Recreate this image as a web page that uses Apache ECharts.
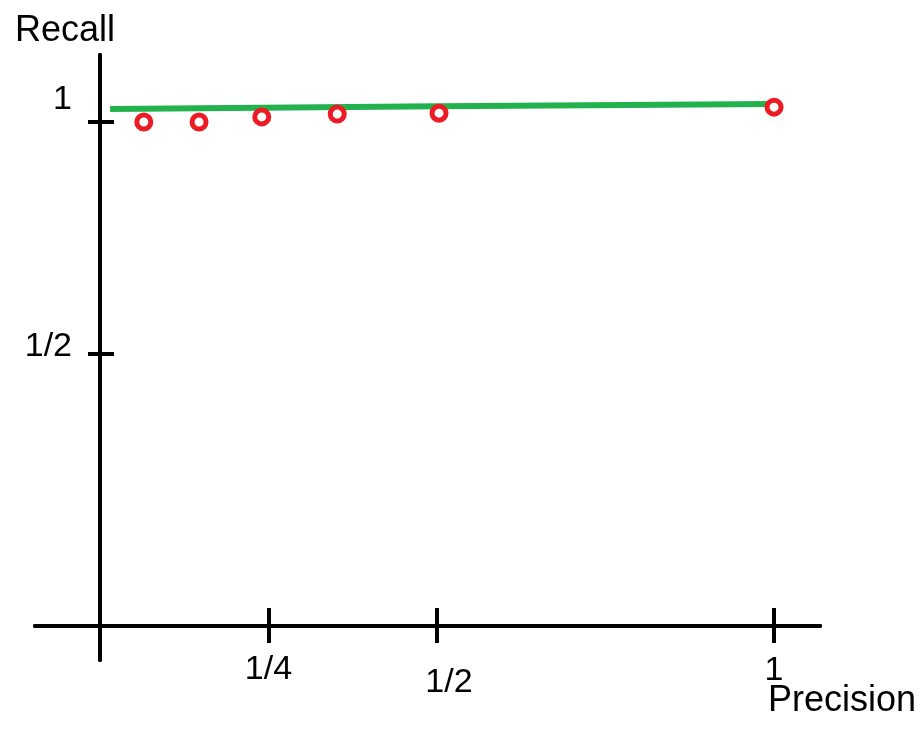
<!DOCTYPE html>
<html>
<head>
<meta charset="utf-8">
<script src="https://cdn.jsdelivr.net/npm/echarts@6/dist/echarts.min.js"></script>
<style>
html,body{margin:0;padding:0;background:#fff;}
#chart{width:924px;height:733px;}
</style>
</head>
<body>
<div id="chart"></div>
<script>
// Data
var precision = [0.065, 0.147, 0.240, 0.352, 0.503, 1.0];
var recall    = [1.000, 1.000, 1.011, 1.017, 1.019, 1.032];
var linePrecision = [0.015, 0.503, 1.0];
var lineRecall    = [1.028, 1.034, 1.039];
var xTickValues = [0.25, 0.5, 1];
var xTickLabels = ['1/4', '1/2', '1'];
var yTickValues = [0.5, 1];
var yTickLabels = ['1/2', '1'];

var FONT = 'Liberation Sans, Arial, sans-serif';
var AX = {color: '#000', width: 4};

var chart = echarts.init(document.getElementById('chart'));
var xRich = {
  a: {fontSize: 34, fontFamily: FONT, color: '#000', padding: [0, 0, 0, 0]},
  b: {fontSize: 34, fontFamily: FONT, color: '#000', padding: [13, 0, 0, 24]},
  c: {fontSize: 34, fontFamily: FONT, color: '#000', padding: [1, 0, 0, 0]}
};
var xKeys = ['a', 'b', 'c'];
var yRich = {
  a: {fontSize: 34, fontFamily: FONT, color: '#000', padding: [0, 0, 14, 0]},
  b: {fontSize: 34, fontFamily: FONT, color: '#000', padding: [0, 0, 44, 0]}
};
var yKeys = ['a', 'b'];

function labelFor(values, labels, keys) {
  return function (v) {
    for (var i = 0; i < values.length; i++) {
      if (Math.abs(values[i] - v) < 1e-6) return '{' + keys[i] + '|' + labels[i] + '}';
    }
    return '';
  };
}

var xMin = -0.0964, xMax = 1.0682;
var yMin = -0.1595, yMax = 1.1444;

chart.setOption({
  animation: false,
  backgroundColor: '#fff',
  grid: {left: 35, right: 104, top: 55, bottom: 73, containLabel: false, outerBoundsMode: 'none'},
  xAxis: [
    {
      type: 'value', position: 'bottom', min: xMin, max: xMax,
      axisLine: {show: true, onZero: true, onZeroAxisIndex: 2, lineStyle: AX},
      axisTick: {show: true, length: 17, customValues: xTickValues, lineStyle: AX},
      axisLabel: {show: true, margin: -7, customValues: xTickValues, hideOverlap: false,
        formatter: labelFor(xTickValues, xTickLabels, xKeys), rich: xRich},
      splitLine: {show: false},
      name: 'Precision', nameLocation: 'end', nameGap: -52, nameMoveOverlap: false,
      nameTextStyle: {fontSize: 36, fontFamily: FONT, color: '#000', align: 'left', verticalAlign: 'top', padding: [57, 0, 0, 0]}
    },
    {
      type: 'value', position: 'top', min: xMin, max: xMax,
      axisLine: {show: true, onZero: true, onZeroAxisIndex: 2, lineStyle: AX},
      axisTick: {show: true, length: 18, customValues: xTickValues, lineStyle: AX},
      axisLabel: {show: false},
      splitLine: {show: false}
    }
  ],
  yAxis: [
    {
      type: 'value', position: 'left', min: yMin, max: yMax,
      axisLine: {show: true, onZero: true, onZeroAxisIndex: 0, lineStyle: AX},
      axisTick: {show: true, length: 12, customValues: yTickValues, lineStyle: AX},
      axisLabel: {show: true, margin: -37, customValues: yTickValues, hideOverlap: false,
        formatter: labelFor(yTickValues, yTickLabels, yKeys), rich: yRich},
      splitLine: {show: false},
      name: 'Recall', nameLocation: 'end', nameGap: 6, nameMoveOverlap: false,
      nameTextStyle: {fontSize: 36, fontFamily: FONT, color: '#000', align: 'center', verticalAlign: 'bottom', padding: [0, 70, 0, 0]}
    },
    {
      type: 'value', position: 'right', min: yMin, max: yMax,
      axisLine: {show: true, onZero: true, onZeroAxisIndex: 0, lineStyle: AX},
      axisTick: {show: true, length: 14, customValues: yTickValues, lineStyle: AX},
      axisLabel: {show: false},
      splitLine: {show: false}
    },
    {
      type: 'value', show: false, min: -34, max: 571,
      axisLine: {show: false}, axisTick: {show: false}, axisLabel: {show: false}, splitLine: {show: false}
    }
  ],
  series: [
    {
      type: 'line', xAxisIndex: 0, yAxisIndex: 0,
      data: linePrecision.map(function (p, i) { return [p, lineRecall[i]]; }),
      showSymbol: false, symbol: 'none',
      lineStyle: {color: '#22b14c', width: 6}, z: 2
    },
    {
      type: 'scatter', xAxisIndex: 0, yAxisIndex: 0,
      data: precision.map(function (p, i) { return [p, recall[i]]; }),
      symbol: 'circle', symbolSize: 14,
      itemStyle: {color: '#fff', borderColor: '#ed1c24', borderWidth: 5, opacity: 1}, z: 3
    }
  ]
});
</script>
</body>
</html>
